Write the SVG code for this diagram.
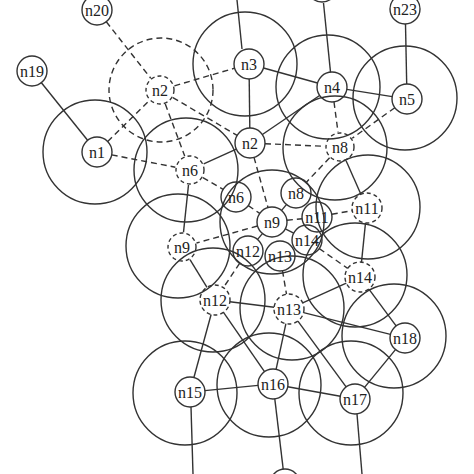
<svg xmlns="http://www.w3.org/2000/svg" width="474" height="474" viewBox="0 0 474 474">
<style>
.big{fill:none;stroke:#333;stroke-width:1.4}
.bigd{fill:none;stroke:#333;stroke-width:1.4;stroke-dasharray:6,4}
.nd circle{fill:none;stroke:#333;stroke-width:1.4}
.nd.d circle{stroke-dasharray:4,3}
.nd text{font-family:"Liberation Serif",serif;font-size:16px;fill:#222;text-anchor:middle}
.s{stroke:#333;stroke-width:1.4;fill:none}
.dl{stroke:#333;stroke-width:1.4;fill:none;stroke-dasharray:6,4}
</style>
<rect width="474" height="474" fill="#fff"/>
<g id="ranges">
<circle class="big" cx="95" cy="152" r="52"/>
<circle class="bigd" cx="161" cy="90" r="52"/>
<circle class="big" cx="245" cy="64" r="52"/>
<circle class="big" cx="328" cy="87" r="52"/>
<circle class="big" cx="405" cy="98" r="52"/>
<circle class="big" cx="186" cy="170" r="52"/>
<circle class="big" cx="335" cy="148" r="52"/>
<circle class="big" cx="272" cy="222" r="52"/>
<circle class="big" cx="368" cy="207" r="52"/>
<circle class="big" cx="178" cy="246" r="52"/>
<circle class="big" cx="355" cy="275" r="52"/>
<circle class="big" cx="213" cy="300" r="52"/>
<circle class="big" cx="292" cy="308" r="52"/>
<circle class="big" cx="394" cy="336" r="52"/>
<circle class="big" cx="185" cy="393" r="52"/>
<circle class="big" cx="269" cy="385" r="52"/>
<circle class="big" cx="351" cy="393" r="52"/>
</g>
<g id="connectors">
<line class="dl" x1="106.3" y1="21.8" x2="150.7" y2="78.2"/>
<line class="s" x1="41.4" y1="82.7" x2="87.6" y2="140.3"/>
<line class="dl" x1="107.7" y1="141.5" x2="149.3" y2="100.5"/>
<line class="dl" x1="174.4" y1="85.8" x2="234.6" y2="68.2"/>
<line class="dl" x1="172.9" y1="97.6" x2="237.1" y2="135.4"/>
<line class="dl" x1="165.3" y1="104.1" x2="184.7" y2="155.9"/>
<line class="dl" x1="111.7" y1="154.9" x2="175.3" y2="167.2"/>
<line class="s" x1="237" y1="0" x2="242" y2="49"/>
<line class="s" x1="263.5" y1="68" x2="317.5" y2="83"/>
<line class="s" x1="249.2" y1="79" x2="249.8" y2="128"/>
<line class="s" x1="323.5" y1="3" x2="330.5" y2="72.1"/>
<line class="s" x1="405.5" y1="24" x2="406.7" y2="84"/>
<line class="s" x1="346.8" y1="89.4" x2="392.2" y2="96.6"/>
<line class="s" x1="319.6" y1="95.5" x2="262.4" y2="134.5"/>
<line class="dl" x1="265" y1="143.7" x2="325" y2="146.3"/>
<line class="dl" x1="334" y1="101.9" x2="338" y2="132.1"/>
<line class="dl" x1="394.8" y1="107.7" x2="352.2" y2="138.3"/>
<line class="s" x1="236.3" y1="149.2" x2="203.7" y2="163.8"/>
<line class="dl" x1="202.9" y1="177.6" x2="223.1" y2="189.4"/>
<line class="dl" x1="254" y1="157.4" x2="268" y2="207.6"/>
<line class="dl" x1="329.6" y1="157.8" x2="306.4" y2="182.2"/>
<line class="s" x1="346.1" y1="160.7" x2="360.9" y2="194.3"/>
<line class="dl" x1="331.8" y1="214.3" x2="352.2" y2="210.7"/>
<line class="s" x1="188.5" y1="184.9" x2="183.5" y2="232.1"/>
<line class="dl" x1="257.5" y1="226" x2="196.5" y2="243"/>
<line class="dl" x1="248.3" y1="205.6" x2="259.7" y2="213.4"/>
<line class="s" x1="190" y1="259.7" x2="207" y2="287.3"/>
<line class="dl" x1="239.6" y1="263.4" x2="223.4" y2="287.6"/>
<line class="dl" x1="282.5" y1="270.8" x2="286.5" y2="294.2"/>
<line class="dl" x1="319.3" y1="248.6" x2="347.7" y2="268.4"/>
<line class="s" x1="365.5" y1="222.9" x2="361.5" y2="262.1"/>
<line class="s" x1="229.9" y1="301.8" x2="274.1" y2="307.2"/>
<line class="s" x1="302.7" y1="302.8" x2="346.3" y2="283.2"/>
<line class="s" x1="368.9" y1="289.1" x2="396.1" y2="325.9"/>
<line class="s" x1="303.6" y1="312.6" x2="390.4" y2="334.4"/>
<line class="s" x1="285.9" y1="323.7" x2="276.1" y2="369.3"/>
<line class="s" x1="297.9" y1="321.1" x2="346.1" y2="386.9"/>
<line class="s" x1="223.5" y1="312.3" x2="264.5" y2="371.7"/>
<line class="s" x1="211.1" y1="314.5" x2="193.9" y2="377.5"/>
<line class="s" x1="204.9" y1="390.6" x2="258.1" y2="385.4"/>
<line class="s" x1="287.7" y1="386.7" x2="340.3" y2="396.3"/>
<line class="s" x1="395.5" y1="349.6" x2="364.5" y2="387.4"/>
<line class="s" x1="191" y1="407" x2="193" y2="474"/>
<line class="s" x1="274.8" y1="398.9" x2="283.2" y2="469.1"/>
<line class="s" x1="357" y1="414" x2="362" y2="474"/>
<line class="s" x1="281.6" y1="210.4" x2="286.4" y2="204.6"/>
<line class="dl" x1="286.9" y1="220.3" x2="302.1" y2="218.7"/>
<line class="s" x1="285.3" y1="228.9" x2="293.7" y2="233.1"/>
<line class="s" x1="262.4" y1="233.6" x2="257.6" y2="239.4"/>
</g>
<g id="n20" class="nd"><circle cx="97" cy="10" r="15"/><text x="97" y="15.5">n20</text></g>
<g id="n19" class="nd"><circle cx="32" cy="71" r="15"/><text x="32" y="76.5">n19</text></g>
<g id="n1" class="nd"><circle cx="97" cy="152" r="15"/><text x="97" y="157.5">n1</text></g>
<g id="n2-virtual" class="nd d"><circle cx="160" cy="90" r="14"/><text x="160" y="95.5">n2</text></g>
<g id="n3" class="nd"><circle cx="249" cy="64" r="15"/><text x="249" y="69.5">n3</text></g>
<g id="n4" class="nd"><circle cx="332" cy="87" r="15"/><text x="332" y="92.5">n4</text></g>
<g id="n5" class="nd"><circle cx="407" cy="99" r="15"/><text x="407" y="104.5">n5</text></g>
<g id="n23" class="nd"><circle cx="405" cy="9" r="15"/><text x="405" y="15">n23</text></g>
<g id="n-top" class="nd"><circle cx="322" cy="-13" r="15"/></g>
<g id="n-bottom" class="nd"><circle cx="285" cy="484" r="15"/></g>
<g id="n2" class="nd"><circle cx="250" cy="143" r="15"/><text x="250" y="148.5">n2</text></g>
<g id="n6-virtual" class="nd d"><circle cx="190" cy="170" r="14"/><text x="190" y="175.5">n6</text></g>
<g id="n6" class="nd"><circle cx="236" cy="197" r="15"/><text x="236" y="202.5">n6</text></g>
<g id="n8" class="nd"><circle cx="296" cy="193" r="15"/><text x="296" y="198.5">n8</text></g>
<g id="n8-virtual" class="nd d"><circle cx="340" cy="147" r="14"/><text x="340" y="152.5">n8</text></g>
<g id="n9" class="nd"><circle cx="272" cy="222" r="15"/><text x="272" y="227.5">n9</text></g>
<g id="n11" class="nd"><circle cx="317" cy="217" r="15"/><text x="317" y="222.5">n11</text></g>
<g id="n11-virtual" class="nd d"><circle cx="367" cy="208" r="15"/><text x="367" y="213.5">n11</text></g>
<g id="n9-virtual" class="nd d"><circle cx="182" cy="247" r="14"/><text x="182" y="252.5">n9</text></g>
<g id="n12" class="nd"><circle cx="248" cy="251" r="15"/><text x="248" y="256.5">n12</text></g>
<g id="n13" class="nd"><circle cx="280" cy="256" r="15"/><text x="280" y="261.5">n13</text></g>
<g id="n14" class="nd"><circle cx="307" cy="240" r="15"/><text x="307" y="245.5">n14</text></g>
<g id="n14-virtual" class="nd d"><circle cx="360" cy="277" r="15"/><text x="360" y="282.5">n14</text></g>
<g id="n12-virtual" class="nd d"><circle cx="215" cy="300" r="15"/><text x="215" y="305.5">n12</text></g>
<g id="n13-virtual" class="nd d"><circle cx="289" cy="309" r="15"/><text x="289" y="314.5">n13</text></g>
<g id="n18" class="nd"><circle cx="405" cy="338" r="15"/><text x="405" y="343.5">n18</text></g>
<g id="n15" class="nd"><circle cx="190" cy="392" r="15"/><text x="190" y="397.5">n15</text></g>
<g id="n16" class="nd"><circle cx="273" cy="384" r="15"/><text x="273" y="389.5">n16</text></g>
<g id="n17" class="nd"><circle cx="355" cy="399" r="15"/><text x="355" y="404.5">n17</text></g>
</svg>
